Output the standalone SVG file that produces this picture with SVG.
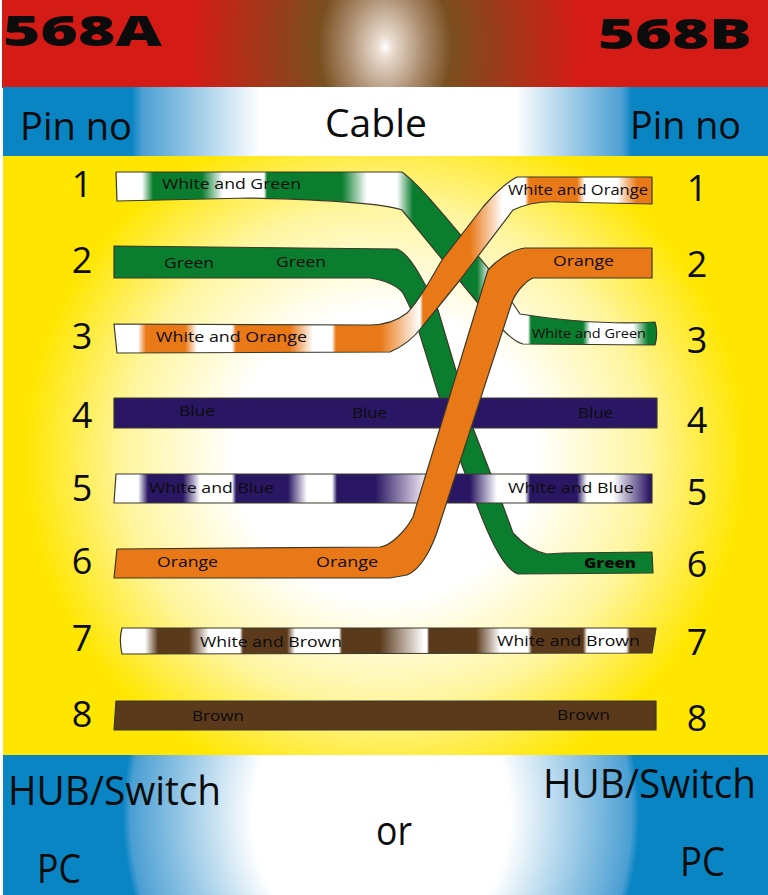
<svg xmlns="http://www.w3.org/2000/svg" width="768" height="895" viewBox="0 0 768 895">
<style>
.w{stroke:#3a3a2a;stroke-width:1.2;stroke-linejoin:round}
text{font-family:"Open Sans","Liberation Sans",sans-serif;fill:#0c0c0c}
.big{font-size:39px}
.hub{font-size:40px}
.pin{font-size:36px}
.title{font-size:43px;font-weight:800}
.lab{font-size:14px}
</style>
<defs>
<radialGradient id="gRed" gradientUnits="userSpaceOnUse" cx="0" cy="0" r="1" gradientTransform="translate(385 47) scale(195 270)">
<stop offset="0" stop-color="#fff"/><stop offset=".04" stop-color="#eadccf"/><stop offset=".2" stop-color="#a98a6c"/><stop offset=".34" stop-color="#7a4f20"/><stop offset="1" stop-color="#d51b15"/>
</radialGradient>
<linearGradient id="gCable" gradientUnits="userSpaceOnUse" x1="0" x2="1000" y1="0" y2="0">
<stop offset=".132" stop-color="#0a85c4"/><stop offset=".142" stop-color="#4b9fd3"/><stop offset=".26" stop-color="#fff"/><stop offset=".515" stop-color="#fff"/><stop offset=".622" stop-color="#4b9fd3"/><stop offset=".632" stop-color="#0a85c4"/>
</linearGradient>
<radialGradient id="gYel" gradientUnits="userSpaceOnUse" cx="0" cy="0" r="1" gradientTransform="translate(385 455) scale(360 345)">
<stop offset=".42" stop-color="#fff"/><stop offset=".72" stop-color="#fff5a0"/><stop offset="1" stop-color="#ffe600"/>
</radialGradient>
<radialGradient id="gBot" gradientUnits="userSpaceOnUse" cx="0" cy="0" r="1" gradientTransform="translate(381 815) scale(258 280)">
<stop offset=".5" stop-color="#fff"/><stop offset=".97" stop-color="#4b9fd3"/><stop offset="1" stop-color="#0a85c4"/>
</radialGradient>
<linearGradient id="gWG" gradientUnits="userSpaceOnUse" x1="0" x2="1000" y1="0" y2="0">
<stop offset=".142" stop-color="#fff"/><stop offset=".153" stop-color="#0b7d2f"/><stop offset=".202" stop-color="#0b7d2f"/><stop offset=".223" stop-color="#fff"/><stop offset=".264" stop-color="#fff"/><stop offset=".267" stop-color="#0b7d2f"/><stop offset=".342" stop-color="#0b7d2f"/><stop offset=".367" stop-color="#fff"/><stop offset=".397" stop-color="#fff"/><stop offset=".413" stop-color="#0b7d2f"/><stop offset=".477" stop-color="#0b7d2f"/><stop offset=".49" stop-color="#fff"/><stop offset=".528" stop-color="#fff"/><stop offset=".531" stop-color="#0b7d2f"/><stop offset=".583" stop-color="#0b7d2f"/><stop offset=".59" stop-color="#fff"/><stop offset=".633" stop-color="#fff"/><stop offset=".648" stop-color="#0b7d2f"/>
</linearGradient>
<linearGradient id="gWO" gradientUnits="userSpaceOnUse" x1="0" x2="1000" y1="0" y2="0">
<stop offset=".138" stop-color="#fff"/><stop offset=".146" stop-color="#e97817"/><stop offset=".185" stop-color="#e97817"/><stop offset=".197" stop-color="#fff"/><stop offset=".232" stop-color="#fff"/><stop offset=".236" stop-color="#e97817"/><stop offset=".29" stop-color="#e97817"/><stop offset=".313" stop-color="#fff"/><stop offset=".332" stop-color="#fff"/><stop offset=".336" stop-color="#e97817"/><stop offset=".38" stop-color="#e97817"/><stop offset=".42" stop-color="#fff"/><stop offset=".423" stop-color="#e97817"/><stop offset=".47" stop-color="#e97817"/><stop offset=".503" stop-color="#fff"/><stop offset=".525" stop-color="#fff"/><stop offset=".529" stop-color="#e97817"/><stop offset=".577" stop-color="#e97817"/><stop offset=".585" stop-color="#fff"/><stop offset=".617" stop-color="#fff"/><stop offset=".637" stop-color="#e97817"/>
</linearGradient>
<linearGradient id="gWB" gradientUnits="userSpaceOnUse" x1="0" x2="1000" y1="0" y2="0">
<stop offset=".138" stop-color="#fff"/><stop offset=".148" stop-color="#2a1763"/><stop offset=".183" stop-color="#2a1763"/><stop offset=".2" stop-color="#fff"/><stop offset=".232" stop-color="#fff"/><stop offset=".236" stop-color="#2a1763"/><stop offset=".288" stop-color="#2a1763"/><stop offset=".307" stop-color="#fff"/><stop offset=".332" stop-color="#fff"/><stop offset=".337" stop-color="#2a1763"/><stop offset=".375" stop-color="#2a1763"/><stop offset=".423" stop-color="#e8e0f0"/><stop offset=".45" stop-color="#2a1763"/><stop offset=".47" stop-color="#2a1763"/><stop offset=".497" stop-color="#fff"/><stop offset=".525" stop-color="#fff"/><stop offset=".53" stop-color="#2a1763"/><stop offset=".577" stop-color="#2a1763"/><stop offset=".587" stop-color="#fff"/><stop offset=".613" stop-color="#fff"/><stop offset=".65" stop-color="#2a1763"/>
</linearGradient>
<linearGradient id="gWBr" gradientUnits="userSpaceOnUse" x1="0" x2="1000" y1="0" y2="0">
<stop offset=".145" stop-color="#fff"/><stop offset=".158" stop-color="#5b3a1c"/><stop offset=".189" stop-color="#5b3a1c"/><stop offset=".209" stop-color="#fff"/><stop offset=".24" stop-color="#fff"/><stop offset=".243" stop-color="#5b3a1c"/><stop offset=".287" stop-color="#5b3a1c"/><stop offset=".295" stop-color="#fff"/><stop offset=".339" stop-color="#fff"/><stop offset=".342" stop-color="#5b3a1c"/><stop offset=".38" stop-color="#5b3a1c"/><stop offset=".424" stop-color="#fff"/><stop offset=".427" stop-color="#fff"/><stop offset=".429" stop-color="#5b3a1c"/><stop offset=".476" stop-color="#5b3a1c"/><stop offset=".5" stop-color="#fff"/><stop offset=".528" stop-color="#fff"/><stop offset=".532" stop-color="#5b3a1c"/><stop offset=".583" stop-color="#5b3a1c"/><stop offset=".587" stop-color="#fff"/><stop offset=".626" stop-color="#fff"/><stop offset=".63" stop-color="#5b3a1c"/>
</linearGradient>
</defs>

<g id="background">
<rect x="2" y="0" width="766" height="88" fill="url(#gRed)"/>
<rect x="3" y="87" width="765" height="69" fill="url(#gCable)"/>
<rect x="3" y="156" width="765" height="600" fill="url(#gYel)"/>
<rect x="3" y="755" width="765" height="140" fill="url(#gBot)"/>
</g>

<g id="connectors">
<g id="wire-green">
<path class="w" fill="#0b7d2f" d="M114 246L397 249C405 252 412 262 418 272C428 289 433 300 438 310L473 428L502 503L513 533C525 546 535 552 547 554L563 553L652 552L653 573L518 574C505 570 490 540 477 505L460 460L437 390L420 335C416 320 412 310 403 293C398 287 390 281 370 278L114 278Z"/>
<text class="lab" x="164" y="268" textLength="50" lengthAdjust="spacingAndGlyphs">Green</text>
<text class="lab" x="276" y="267" textLength="50" lengthAdjust="spacingAndGlyphs">Green</text>
<text class="lab" x="584" y="568" textLength="52" lengthAdjust="spacingAndGlyphs" font-weight="800">Green</text>
</g>
<g id="wire-white-green">
<path class="w" fill="url(#gWG)" d="M116 172L402 172C420 185 450 222 488 268L503 296L512 302L520 314C560 320 610 325 655 322C658 332 657 338 655 345L523 344C515 342 508 335 503 330L477 302L402 210C385 204 340 200 250 198L117 201Z"/>
<text class="lab" x="162" y="189" textLength="139" lengthAdjust="spacingAndGlyphs">White and Green</text>
<text x="532" y="338" font-size="12" textLength="114" lengthAdjust="spacingAndGlyphs">White and Green</text>
</g>
<g id="wire-blue">
<rect class="w" x="114" y="398" width="543" height="30" fill="#2a1763"/>
<text class="lab" x="179" y="416" textLength="36" lengthAdjust="spacingAndGlyphs">Blue</text>
<text class="lab" x="352" y="418" textLength="35" lengthAdjust="spacingAndGlyphs">Blue</text>
<text class="lab" x="578" y="418" textLength="35" lengthAdjust="spacingAndGlyphs">Blue</text>
</g>
<g id="wire-white-blue">
<path class="w" fill="url(#gWB)" d="M116 474L652 474L652 503L114 503Z"/>
<text class="lab" x="149" y="493" textLength="125" lengthAdjust="spacingAndGlyphs">White and Blue</text>
<text class="lab" x="508" y="493" textLength="126" lengthAdjust="spacingAndGlyphs">White and Blue</text>
</g>
<g id="wire-white-orange">
<path class="w" fill="url(#gWO)" d="M114 324L370 325C385 325 398 320 407 313C420 300 430 280 442 260L483 207C495 193 505 183 517 177L652 177L652 204L560 202C545 201 530 202 513 210L460 280L422 327C412 340 402 347 390 352L117 353Z"/>
<text class="lab" x="156" y="342" textLength="151" lengthAdjust="spacingAndGlyphs">White and Orange</text>
<text class="lab" x="508" y="195" textLength="140" lengthAdjust="spacingAndGlyphs">White and Orange</text>
</g>
<g id="wire-orange">
<path class="w" fill="#e97817" d="M117 549L380 547C390 546 405 532 413 517L488 270C495 262 510 250 525 248L652 248L652 278L533 278C528 280 518 288 512 302L440 523C432 550 420 570 407 575L390 578L114 578Z"/>
<text class="lab" x="157" y="567" textLength="61" lengthAdjust="spacingAndGlyphs">Orange</text>
<text class="lab" x="316" y="567" textLength="62" lengthAdjust="spacingAndGlyphs">Orange</text>
<text class="lab" x="553" y="266" textLength="61" lengthAdjust="spacingAndGlyphs">Orange</text>
</g>
<g id="wire-white-brown">
<path class="w" fill="url(#gWBr)" d="M122 628L656 628L652 653L122 654C120 645 120 635 122 628Z"/>
<text class="lab" x="200" y="647" textLength="142" lengthAdjust="spacingAndGlyphs">White and Brown</text>
<text class="lab" x="497" y="646" textLength="143" lengthAdjust="spacingAndGlyphs">White and Brown</text>
</g>
<g id="wire-brown">
<path class="w" fill="#5b3a1c" d="M116 701L656 701L656 730L114 730Z"/>
<text class="lab" x="192" y="721" textLength="52" lengthAdjust="spacingAndGlyphs">Brown</text>
<text class="lab" x="557" y="720" textLength="53" lengthAdjust="spacingAndGlyphs">Brown</text>
</g>
</g>

<g id="header-568A"><text class="title" x="3" y="46" textLength="159" lengthAdjust="spacingAndGlyphs">568A</text></g>
<g id="header-568B"><text class="title" x="598" y="49" textLength="154" lengthAdjust="spacingAndGlyphs">568B</text></g>
<g id="header-pin-left"><text class="big" x="20" y="140" textLength="112" lengthAdjust="spacingAndGlyphs">Pin no</text></g>
<g id="header-cable"><text class="big" x="325" y="137" textLength="102" lengthAdjust="spacingAndGlyphs">Cable</text></g>
<g id="header-pin-right"><text class="big" x="630" y="139" textLength="111" lengthAdjust="spacingAndGlyphs">Pin no</text></g>

<g id="pins-left" text-anchor="middle">
<text class="pin" x="82" y="197">1</text>
<text class="pin" x="82" y="273">2</text>
<text class="pin" x="82" y="349">3</text>
<text class="pin" x="82" y="428">4</text>
<text class="pin" x="82" y="501">5</text>
<text class="pin" x="82" y="574">6</text>
<text class="pin" x="82" y="651">7</text>
<text class="pin" x="82" y="727">8</text>
</g>
<g id="pins-right" text-anchor="middle">
<text class="pin" x="697" y="201">1</text>
<text class="pin" x="697" y="277">2</text>
<text class="pin" x="697" y="353">3</text>
<text class="pin" x="697" y="433">4</text>
<text class="pin" x="697" y="505">5</text>
<text class="pin" x="697" y="577">6</text>
<text class="pin" x="697" y="655">7</text>
<text class="pin" x="697" y="731">8</text>
</g>

<g id="device-left">
<text class="hub" x="8" y="805" textLength="213" lengthAdjust="spacingAndGlyphs">HUB/Switch</text>
<text class="hub" x="37" y="883" textLength="44" lengthAdjust="spacingAndGlyphs">PC</text>
</g>
<g id="device-or"><text class="hub" x="376" y="845" textLength="36" lengthAdjust="spacingAndGlyphs">or</text></g>
<g id="device-right">
<text class="hub" x="543" y="798" textLength="213" lengthAdjust="spacingAndGlyphs">HUB/Switch</text>
<text class="hub" x="680" y="876" textLength="45" lengthAdjust="spacingAndGlyphs">PC</text>
</g>
</svg>
